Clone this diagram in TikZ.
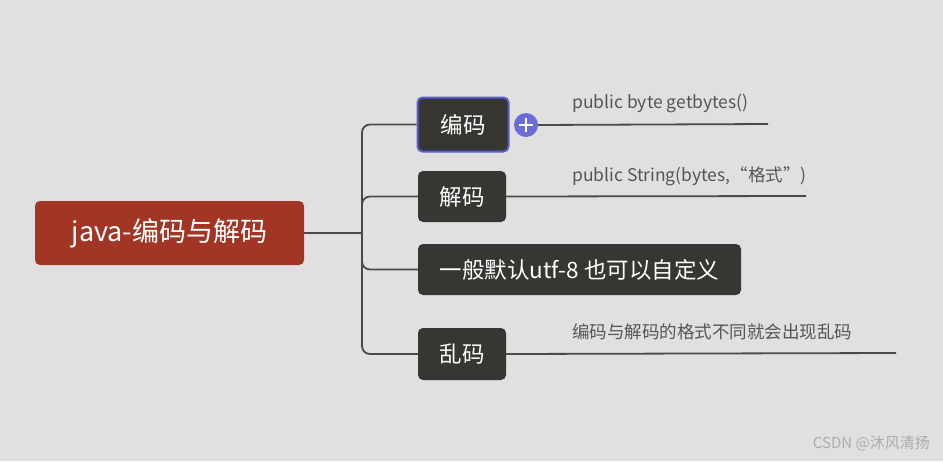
\documentclass[tikz,border=0pt]{standalone}
\usepackage{fontspec}
\setmainfont{Noto Sans CJK SC}
\begin{document}
\begin{tikzpicture}[x=1pt,y=-1pt,
  box/.style={fill=boxc,rounded corners=5pt,text=white,font=\fontsize{22.5}{26}\selectfont,inner sep=0pt},
  ln/.style={draw=linec,line width=1.8pt},
  lab/.style={text=labc,font=\fontsize{17.5}{20}\selectfont,anchor=west,inner sep=0pt}]
\definecolor{bg}{HTML}{E0E0E0}\definecolor{boxc}{HTML}{363632}
\definecolor{rootc}{HTML}{A33525}\definecolor{linec}{HTML}{4A4A4A}
\definecolor{labc}{HTML}{555555}\definecolor{blu}{HTML}{5B5BD6}
\fill[bg] (0,0) rectangle (943,461);
\useasboundingbox (0,0) rectangle (943,461);
\node[box,fill=rootc,minimum width=269pt,minimum height=64pt,font=\fontsize{27}{30}\selectfont] (root) at (169.5,233) {java-编码与解码};
\node[box,draw=blu,line width=2pt,minimum width=91pt,minimum height=54pt] (n1) at (463,124.5) {编码};
\node[box,minimum width=88pt,minimum height=51pt] (n2) at (462,196.5) {解码};
\node[box,minimum width=323pt,minimum height=51pt] (n3) at (579.5,269.5) {一般默认utf-8 也可以自定义};
\node[box,minimum width=88pt,minimum height=52pt] (n4) at (462,354) {乱码};
\coordinate (j) at (362,233);
\draw[ln] (root.east) -- (j);
\draw[ln,rounded corners=8pt] (n1.west) -| (j) |- (n4.west);
\draw[ln,rounded corners=8pt] (j) |- (n2.west);
\draw[ln,rounded corners=8pt] (j) |- (n3.west);
\node[circle,fill=blu!90!white,minimum size=24pt,inner sep=0pt] (plus) at (526,125) {};
\draw[white,line width=2pt] (519,125) -- (533,125) (526,118) -- (526,132);
\coordinate (e1) at (768,124); \coordinate (e2) at (806,196); \coordinate (e4) at (896,353);
\draw[ln] (plus.east) -- (e1);
\draw[ln] (n2.east) -- (e2);
\draw[ln] (n4.east) -- (e4);
\node[lab] (t1) at (572,104) {public byte getbytes()};
\node[lab] (t2) at (572,176) {public String(bytes,“格式”)};
\node[lab] (t4) at (572,332) {编码与解码的格式不同就会出现乱码};
\node[text=white!35!gray,font=\fontsize{15}{18}\selectfont,anchor=east,inner sep=0pt] (wm) at (930,443) {CSDN @沐风清扬};
\end{tikzpicture}
\end{document}
